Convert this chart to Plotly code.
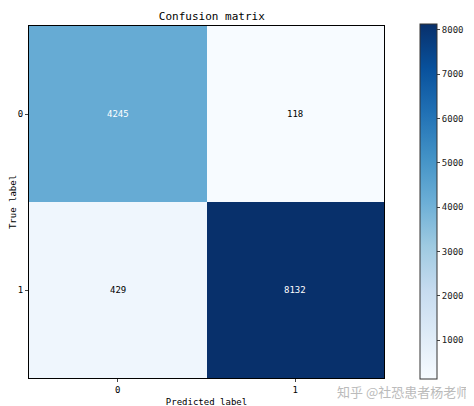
import plotly.graph_objects as go

# ---------- Data ----------
true_labels = ["0", "1"]
pred_labels = ["0", "1"]
counts = [[4245, 118],
          [429, 8132]]

text_colors = [["white", "black"], ["black", "white"]]

fig = go.Figure(go.Heatmap(
    z=counts, x=pred_labels, y=true_labels,
    colorscale="Blues", zmin=118, zmax=8132,
    colorbar=dict(x=1.1, xanchor="left", xpad=0, lenmode="pixels", len=355, y=0.501,
                  yanchor="middle", ypad=0,
                  thickness=17, outlinewidth=1, outlinecolor="#333",
                  tickvals=list(range(1000, 9000, 1000)), ticks="outside", ticklen=3,
                  tickfont=dict(size=9, color="#222")),
    showscale=True, hoverinfo="skip",
))

for i, row in enumerate(counts):
    for j, v in enumerate(row):
        fig.add_annotation(x=pred_labels[j], y=true_labels[i], text=str(v), showarrow=False,
                           font=dict(size=9, color=text_colors[i][j]))

fig.add_annotation(x=1.245, y=-0.037, xref="paper", yref="paper", xanchor="right", yanchor="middle",
                   text="知乎 @社恐患者杨老师", showarrow=False,
                   font=dict(size=13, color="#bbbbbb", family="Noto Sans CJK SC"))

fig.update_layout(
    width=474, height=406, paper_bgcolor="white", plot_bgcolor="white",
    margin=dict(l=21, r=98, t=18, b=36, autoexpand=False),
    title=dict(text="Confusion matrix", x=0.43, xanchor="center", y=0.99, yanchor="top",
               font=dict(size=11, family="DejaVu Sans Mono", color="black")),
    font=dict(family="DejaVu Sans Mono", size=9, color="black"),
    xaxis=dict(title=dict(text="Predicted label", font=dict(size=9), standoff=4), automargin=False,
               ticks="outside", ticklen=3, showline=True, linecolor="black", mirror=True),
    yaxis=dict(title=dict(text="True label", font=dict(size=9), standoff=4), autorange="reversed",
               automargin=False,
               ticks="outside", ticklen=3, showline=True, linecolor="black", mirror=True),
)

fig.write_html("out.html")
